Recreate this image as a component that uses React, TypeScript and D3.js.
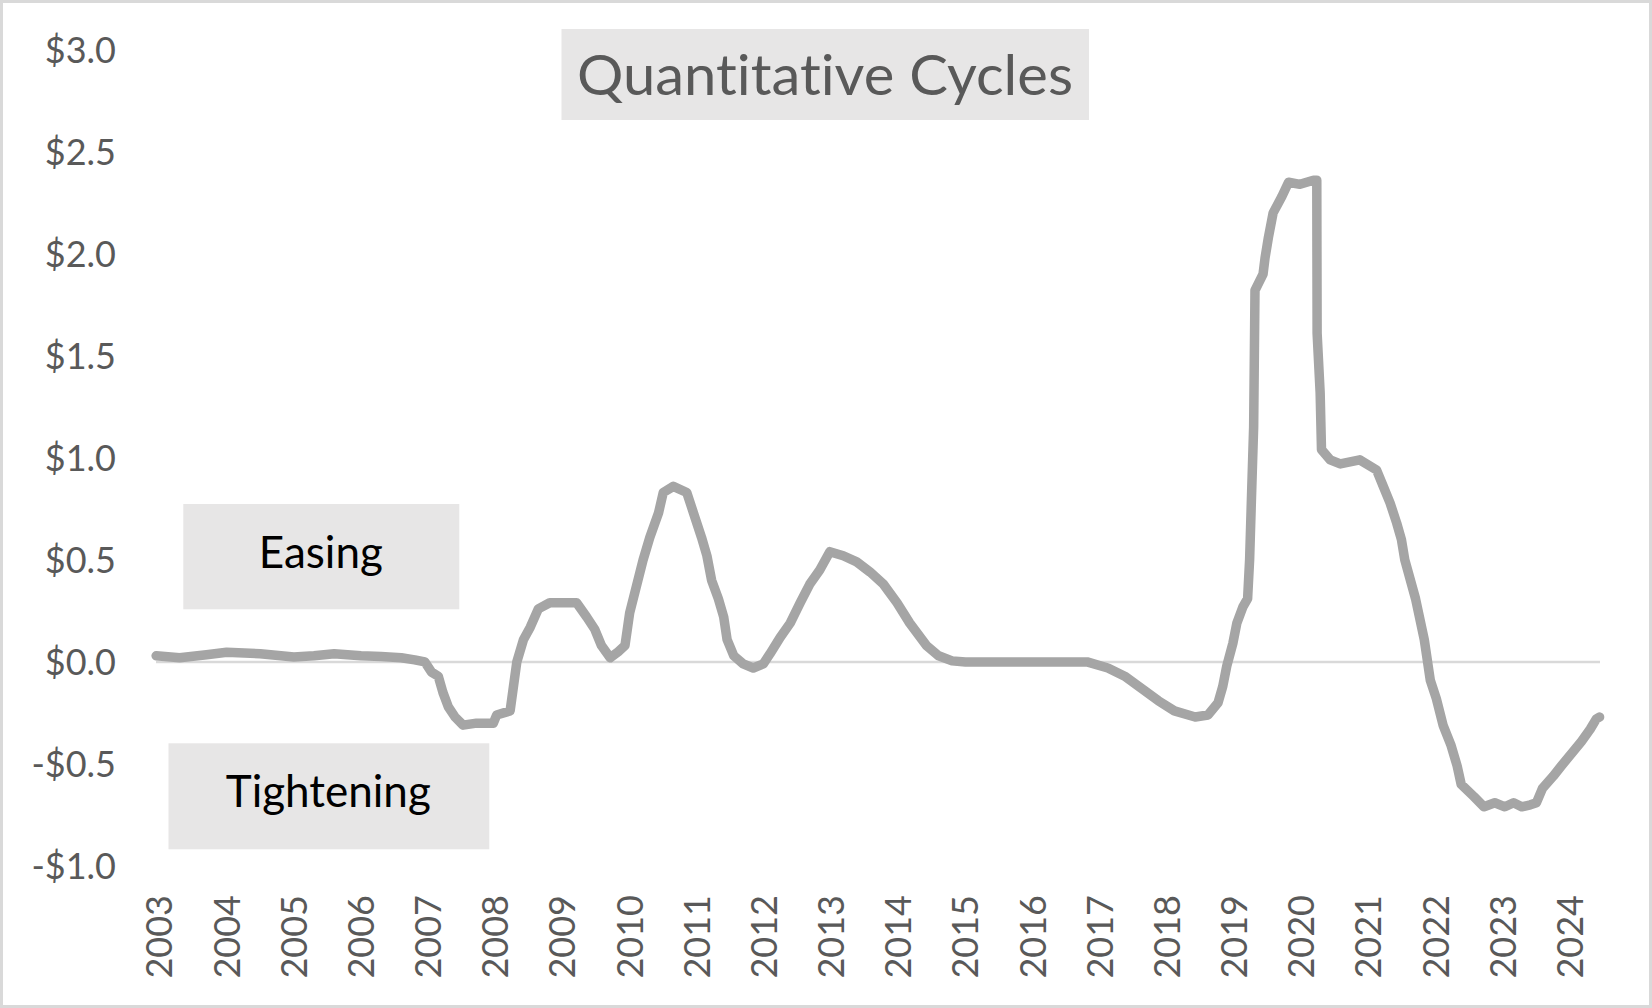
import React from "react";
import * as d3 from "d3";

// decimal year of each reading, and the change in $ trillions
const dates = [
  2002.95, 2003.3, 2003.7, 2004.0, 2004.5, 2005.0, 2005.3, 2005.6, 2006.0, 2006.3,
  2006.6, 2006.8, 2006.95, 2007.05, 2007.15, 2007.22, 2007.3, 2007.4, 2007.52, 2007.72,
  2007.97, 2008.02, 2008.22, 2008.27, 2008.32, 2008.42, 2008.52, 2008.64, 2008.81, 2009.21,
  2009.36, 2009.48, 2009.58, 2009.71, 2009.83, 2009.93, 2010.0, 2010.1, 2010.2, 2010.3,
  2010.43, 2010.5, 2010.65, 2010.85, 2010.95, 2011.07, 2011.15, 2011.22, 2011.32, 2011.4,
  2011.45, 2011.55, 2011.69, 2011.84, 2011.99, 2012.09, 2012.24, 2012.39, 2012.54, 2012.68,
  2012.83, 2012.98, 2013.18, 2013.38, 2013.58, 2013.78, 2013.98, 2014.17, 2014.42, 2014.6,
  2014.8, 2015.0, 2016.81, 2017.12, 2017.37, 2017.62, 2017.87, 2018.11, 2018.42, 2018.61,
  2018.76, 2018.83, 2018.89, 2018.98, 2019.04, 2019.13, 2019.2, 2019.23, 2019.26, 2019.29,
  2019.31, 2019.43, 2019.46, 2019.51, 2019.58, 2019.71, 2019.81, 2019.98, 2020.18, 2020.23,
  2020.235, 2020.28, 2020.3, 2020.43, 2020.58, 2020.87, 2021.12, 2021.22, 2021.32, 2021.42,
  2021.49, 2021.54, 2021.7, 2021.83, 2021.92, 2022.01, 2022.11, 2022.23, 2022.32, 2022.38,
  2022.57, 2022.72, 2022.88, 2023.03, 2023.16, 2023.28, 2023.41, 2023.5, 2023.59, 2023.75,
  2023.87, 2024.02, 2024.17, 2024.3, 2024.39, 2024.44,
];
const values = [
  0.03, 0.02, 0.035, 0.047, 0.04, 0.024, 0.03, 0.04, 0.03, 0.026,
  0.02, 0.01, 0.0, -0.05, -0.07, -0.15, -0.22, -0.27, -0.31, -0.3,
  -0.3, -0.26, -0.24, -0.12, 0.0, 0.11, 0.17, 0.26, 0.29, 0.29,
  0.22, 0.16, 0.08, 0.02, 0.05, 0.08, 0.24, 0.37, 0.5, 0.61,
  0.73, 0.83, 0.86, 0.83, 0.73, 0.61, 0.52, 0.4, 0.31, 0.22,
  0.11, 0.03, -0.01, -0.03, -0.01, 0.04, 0.12, 0.19, 0.29, 0.38,
  0.45, 0.54, 0.52, 0.49, 0.44, 0.38, 0.29, 0.19, 0.08, 0.03,
  0.005, 0.0, 0.0, -0.03, -0.07, -0.13, -0.19, -0.24, -0.27, -0.26,
  -0.2, -0.12, -0.02, 0.09, 0.19, 0.27, 0.31, 0.5, 0.83, 1.15,
  1.82, 1.9, 1.98, 2.08, 2.2, 2.28, 2.35, 2.34, 2.36, 2.36,
  1.61, 1.32, 1.04, 0.99, 0.97, 0.99, 0.94, 0.86, 0.78, 0.68,
  0.6, 0.5, 0.31, 0.11, -0.09, -0.18, -0.31, -0.41, -0.51, -0.6,
  -0.66, -0.71, -0.69, -0.71, -0.69, -0.71, -0.7, -0.69, -0.62, -0.56,
  -0.51, -0.45, -0.39, -0.33, -0.28, -0.27,
];

const yearTicks = d3.range(2003, 2025);
const valueTicks = [-1, -0.5, 0, 0.5, 1, 1.5, 2, 2.5, 3];
const title = "Quantitative Cycles";
const notes = ["Easing", "Tightening"];

const W = 1652;
const H = 1008;
const font = "Lato, 'Open Sans', sans-serif";

const fmt = (v: number) => (v < 0 ? "-$" : "$") + Math.abs(v).toFixed(1);

export default function App() {
  const x = d3.scaleLinear().domain([2003, 2024]).range([159.5, 1570]);
  const y = d3.scaleLinear().domain([-1, 3]).range([866, 49.6]);

  const points = dates.map((d, i) => [d, values[i]] as [number, number]);
  const line = d3
    .line<[number, number]>()
    .x((d) => x(d[0]))
    .y((d) => y(d[1]));

  return (
    <svg
      width={W}
      height={H}
      style={{ position: "absolute", left: 0, top: 0, fontVariantLigatures: "none" }}
      fontFamily={font}
    >
      <rect x={1.5} y={1.5} width={W - 3} height={H - 3} fill="#fff" stroke="#d9d9d9" strokeWidth={3} />

      {/* zero gridline */}
      <line x1={156} x2={1600} y1={y(0)} y2={y(0)} stroke="#d9d9d9" strokeWidth={2.5} />

      {valueTicks.map((v) => (
        <text key={v} x={116} y={y(v)} dy="0.36em" textAnchor="end" fontSize={36} fill="#595959">
          {fmt(v)}
        </text>
      ))}

      {yearTicks.map((yr) => (
        <text
          key={yr}
          transform={`translate(${x(yr)},895) rotate(-90)`}
          dy="0.36em"
          textAnchor="end"
          fontSize={36}
          fill="#595959"
        >
          {yr}
        </text>
      ))}

      <path
        d={line(points) ?? ""}
        fill="none"
        stroke="#a5a5a5"
        strokeWidth={9.5}
        strokeLinejoin="round"
        strokeLinecap="round"
      />

      {/* title box */}
      <rect x={561.5} y={29} width={527.5} height={91} fill="#e7e6e6" />
      <text x={825} y={95} textAnchor="middle" fontSize={57} fill="#595959" textLength={496} lengthAdjust="spacingAndGlyphs">
        {title}
      </text>

      {/* annotation boxes */}
      <rect x={183.3} y={504} width={276} height={105.3} fill="#e7e6e6" />
      <text x={320.8} y={568.3} textAnchor="middle" fontSize={44} fill="#000">
        {notes[0]}
      </text>
      <rect x={168.5} y={743.3} width={320.8} height={106} fill="#e7e6e6" />
      <text x={328.3} y={806.7} textAnchor="middle" fontSize={44} fill="#000">
        {notes[1]}
      </text>
    </svg>
  );
}
